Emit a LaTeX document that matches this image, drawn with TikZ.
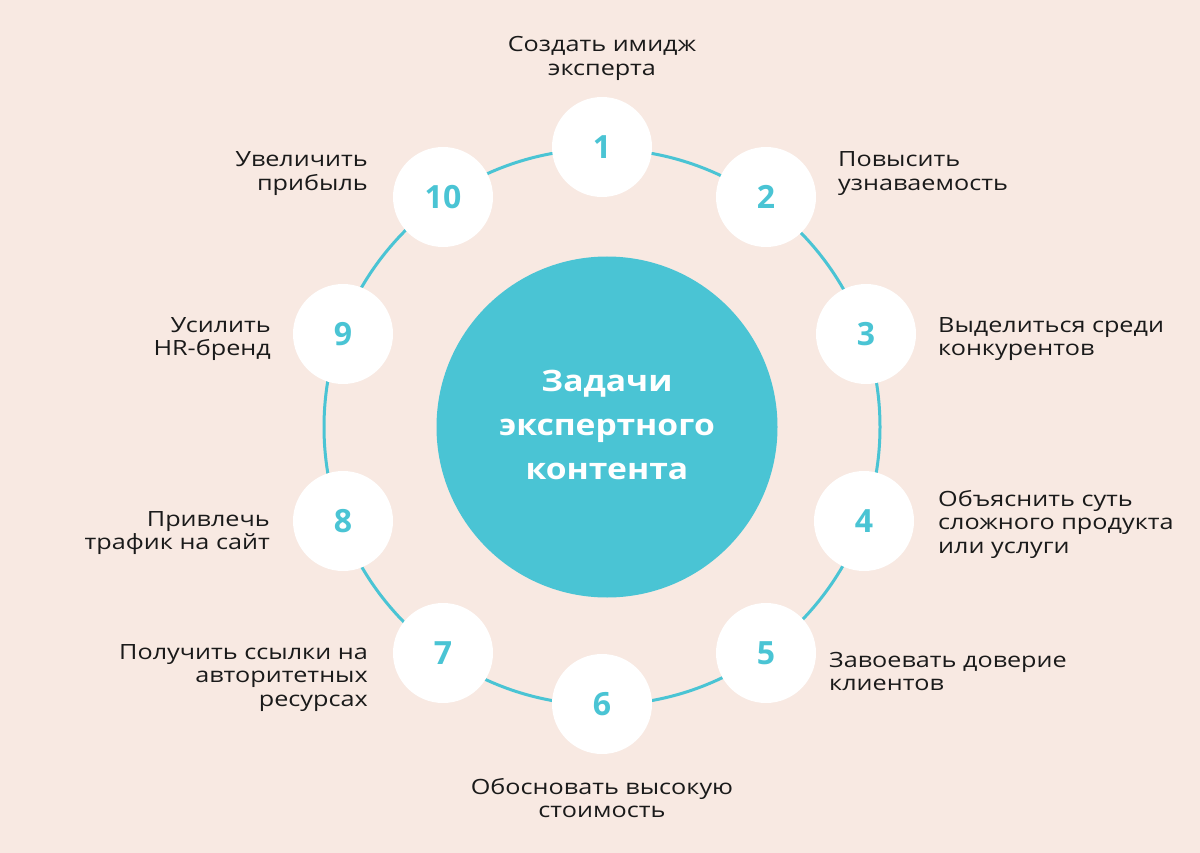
\documentclass[tikz,border=0pt]{standalone}
\usepackage{fontspec}
\setmainfont{Open Sans}[FakeStretch=1.2, BoldFeatures={FakeStretch=1.14}]
\newfontfamily\numfont{Open Sans}
\definecolor{bgc}{HTML}{F8E9E2}
\definecolor{tealc}{HTML}{4AC4D4}
\definecolor{txtc}{HTML}{1A1A1A}
\newcommand\lblL[1]{\begin{tabular}[t]{@{}l@{}}#1\end{tabular}}
\newcommand\lblR[1]{\begin{tabular}[t]{@{}r@{}}#1\end{tabular}}
\newcommand\lblC[1]{\begin{tabular}[t]{@{}c@{}}#1\end{tabular}}
\tikzset{
  num/.style={circle, fill=white, minimum size=100pt, inner sep=0pt, text=tealc,
    font=\numfont\bfseries\fontsize{32}{32}\selectfont},
  hub/.style={circle, fill=tealc, minimum size=341pt, inner sep=0pt, text=white,
    font=\bfseries\fontsize{29.5}{44}\selectfont},
  lbl/.style={inner sep=0pt, text=txtc, font=\fontsize{21}{23.5}\selectfont},
  ring/.style={draw=tealc, line width=3pt}
}
\begin{document}
\begin{tikzpicture}[x=1pt,y=-1pt]
\fill[bgc] (0,0) rectangle (1200,853);
\useasboundingbox (0,0) rectangle (1200,853);
\coordinate (o) at (602,427);
\draw[ring] (o) circle[radius=278pt];
\node[hub] (c) at (607,427) {\begin{tabular}{@{}c@{}}Задачи\\экспертного\\контента\end{tabular}};
\node[num] (n1) at (602,147) {1};
\node[num] (n2) at (766,197) {2};
\node[num] (n3) at (866,334) {3};
\node[num] (n4) at (864,521) {4};
\node[num] (n5) at (766,653) {5};
\node[num] (n6) at (602,704) {6};
\node[num] (n7) at (443,653) {7};
\node[num] (n8) at (343,521) {8};
\node[num] (n9) at (343,334) {9};
\node[num] (n10) at (443,197) {10};
\node[lbl, anchor=base] (t1) at (602,52) {\lblC{Создать имидж\\эксперта}};
\node[lbl, anchor=base west] (t2) at (838,167) {\lblL{Повысить\\узнаваемость}};
\node[lbl, anchor=base west] (t3) at (938,332) {\lblL{Выделиться среди\\конкурентов}};
\node[lbl, anchor=base west] (t4) at (938,506) {\lblL{Объяснить суть\\сложного продукта\\или услуги}};
\node[lbl, anchor=base west] (t5) at (829,667) {\lblL{Завоевать доверие\\клиентов}};
\node[lbl, anchor=base] (t6) at (602,794) {\lblC{Обосновать высокую\\стоимость}};
\node[lbl, anchor=base east] (t7) at (368,659) {\lblR{Получить ссылки на\\авторитетных\\ресурсах}};
\node[lbl, anchor=base east] (t8) at (270,526) {\lblR{Привлечь\\трафик на сайт}};
\node[lbl, anchor=base east] (t9) at (271,332) {\lblR{Усилить\\HR-бренд}};
\node[lbl, anchor=base east] (t10) at (368,167) {\lblR{Увеличить\\прибыль}};
\end{tikzpicture}
\end{document}
